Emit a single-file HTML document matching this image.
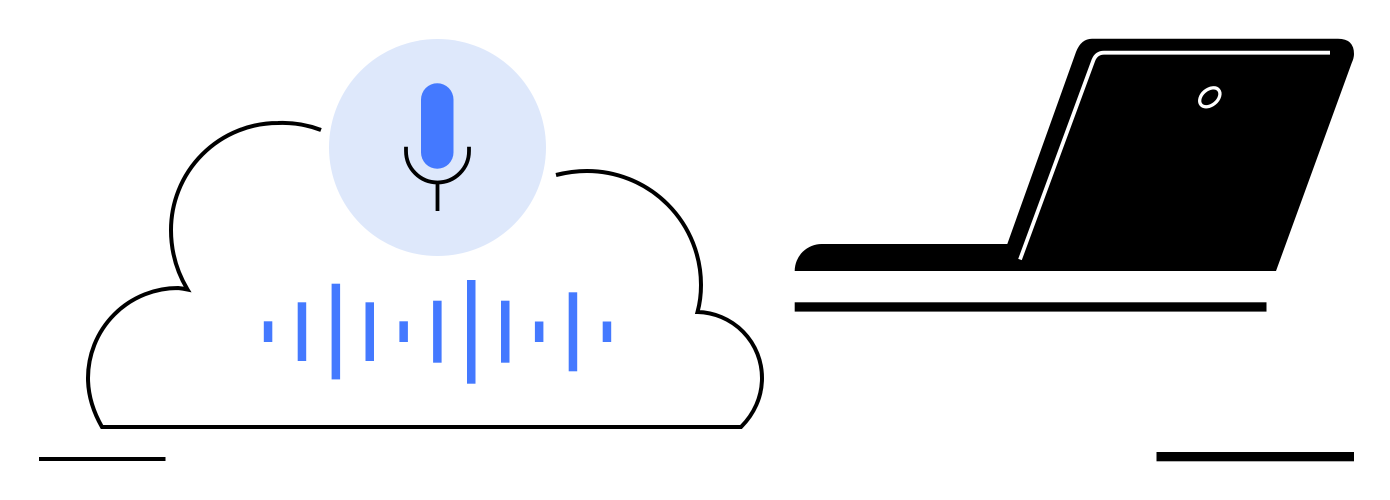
<!DOCTYPE html>
<html>
<head>
<meta charset="utf-8">
<style>
html,body{margin:0;padding:0;background:#fff;width:1390px;height:500px;overflow:hidden}
svg{display:block}
</style>
</head>
<body>
<svg width="1390" height="500" viewBox="0 0 1390 500" xmlns="http://www.w3.org/2000/svg">
<rect width="1390" height="500" fill="#fff"/>
<!-- cloud -->
<path d="M321 130 A108 108 0 0 0 278 123 A107 107 0 0 0 171 230 C171 252 177 272 187.500 289.500 A90 90 0 0 0 178 288 A90 90 0 0 0 88 378 C88 396 94 413 102 427 L741 427 C754 414 762 397 762 378 A66 66 0 0 0 697.500 312 C700 303 701 294 701 285 A114 114 0 0 0 587 171 C577 171 566 172.500 556 175" fill="none" stroke="#000" stroke-width="4" stroke-linejoin="miter"/>
<!-- mic circle -->
<circle cx="437.500" cy="147.500" r="108.500" fill="#dee8fb"/>
<rect x="421" y="83.300" width="32.500" height="85.400" rx="16.250" fill="#4479ff"/>
<path d="M406 146.700 L406 151 A31.500 31.500 0 0 0 469 151 L469 146.700" fill="none" stroke="#000" stroke-width="3.800"/>
<path d="M437.500 181 L437.500 211" fill="none" stroke="#000" stroke-width="3.800"/>
<!-- waveform -->
<g fill="#4479ff">
<rect x="263.800" y="321.300" width="8.500" height="20.700"/>
<rect x="297.700" y="302.300" width="8.500" height="58.700"/>
<rect x="331.600" y="283.700" width="8.500" height="95.700"/>
<rect x="365.500" y="302.300" width="8.500" height="58.700"/>
<rect x="399.400" y="321.300" width="8.500" height="20.700"/>
<rect x="433.100" y="300.700" width="8.500" height="62"/>
<rect x="467" y="280" width="8.500" height="103.700"/>
<rect x="501" y="300.700" width="8.500" height="62"/>
<rect x="534.900" y="321.500" width="8.500" height="20.500"/>
<rect x="568.700" y="292.300" width="8.500" height="79"/>
<rect x="602.700" y="321.500" width="8.500" height="20.500"/>
</g>
<!-- laptop -->
<path d="M794.700 271 A27 27 0 0 1 822 244 L1007.300 244 L1076 52 Q1081 38.700 1092 38.700 L1338 38.700 Q1354 38.700 1354 54 Q1354 58 1351.700 63 L1276 271 Z" fill="#000"/>
<path d="M1330 52.700 L1104 52.700 Q1096.500 52.700 1093.500 60 L1020 259.500" fill="none" stroke="#fff" stroke-width="3.800"/>
<ellipse cx="1209.800" cy="97.300" rx="11.500" ry="7.800" transform="rotate(-40 1209.800 97.300)" fill="none" stroke="#fff" stroke-width="3.300"/>
<!-- lines -->
<rect x="794.700" y="302.300" width="471.800" height="9.300" fill="#000"/>
<rect x="1156.500" y="452" width="197.500" height="9.300" fill="#000"/>
<rect x="39" y="457" width="126.500" height="4" fill="#000"/>
</svg>
</body>
</html>
